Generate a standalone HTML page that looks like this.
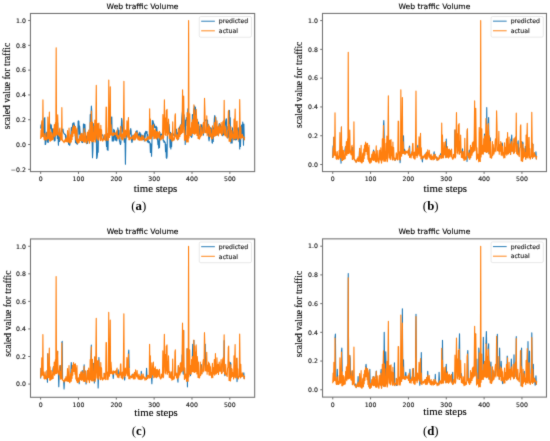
<!DOCTYPE html>
<html><head><meta charset="utf-8"><title>Web traffic Volume</title><style>
html,body{margin:0;padding:0;background:#fff;width:550px;height:441px;overflow:hidden}
svg{display:block}
.tk{font-family:'DejaVu Sans',sans-serif;font-size:6.2px;fill:#111;stroke:#111;stroke-width:0.12px}
.ti{font-family:'DejaVu Sans',sans-serif;font-size:7.6px;fill:#000;stroke:#000;stroke-width:0.12px}
.lg{font-family:'DejaVu Sans',sans-serif;font-size:6.2px;fill:#111;stroke:#111;stroke-width:0.12px}
.xl{font-family:'Liberation Serif',serif;font-size:10.8px;fill:#000;stroke:#000;stroke-width:0.12px}
.yl{font-family:'Liberation Serif',serif;font-size:9.6px;fill:#000;stroke:#000;stroke-width:0.12px}
.pl{font-family:'Liberation Serif',serif;font-size:12.8px;fill:#000}
</style></head><body>
<svg width="550" height="441" viewBox="0 0 550 441">
<defs><filter id="soft" x="0" y="0" width="550" height="441" filterUnits="userSpaceOnUse" color-interpolation-filters="sRGB"><feConvolveMatrix order="3" kernelMatrix="0.25 1 0.25 1 8 1 0.25 1 0.25" edgeMode="duplicate"/></filter>
<filter id="softT" x="0" y="0" width="550" height="441" filterUnits="userSpaceOnUse" color-interpolation-filters="sRGB"><feConvolveMatrix order="3" kernelMatrix="0.1 0.5 0.1 0.5 4 0.5 0.1 0.5 0.1" edgeMode="none"/></filter>
<clipPath id="cpa"><rect x="30.44" y="13.47" width="224.23" height="158.13"/></clipPath>
<clipPath id="cpb"><rect x="322.49" y="13.42" width="223.99" height="158.18"/></clipPath>
<clipPath id="cpc"><rect x="30.49" y="238.95" width="224.18" height="158.35"/></clipPath>
<clipPath id="cpd"><rect x="322.55" y="238.85" width="223.93" height="158.25"/></clipPath></defs>
<g filter="url(#soft)"><rect x="0" y="0" width="550" height="441" fill="#fff"/>
<polyline clip-path="url(#cpa)" points="40.67,128.55 41.05,124.89 41.43,127.26 41.81,122.73 42.18,133.43 42.56,125.58 42.94,130.79 43.32,135.09 43.70,134.08 44.08,118.56 44.45,135.09 44.83,117.63 45.21,144.53 45.59,144.54 45.97,141.72 46.35,133.78 46.72,132.18 47.10,134.78 47.48,141.85 47.86,134.25 48.24,142.36 48.62,136.06 48.99,138.73 49.37,130.38 49.75,129.28 50.13,123.93 50.51,128.36 50.89,125.67 51.27,124.91 51.64,129.50 52.02,134.05 52.40,128.71 52.78,135.09 53.16,135.68 53.54,138.28 53.91,136.22 54.29,140.91 54.67,140.09 55.05,140.79 55.43,132.33 55.81,124.40 56.18,124.91 56.56,124.43 56.94,123.03 57.32,138.52 57.70,122.73 58.08,138.27 58.45,145.27 58.83,136.00 59.21,136.14 59.59,141.36 59.97,135.09 60.35,135.87 60.73,135.23 61.10,133.05 61.48,130.18 61.86,129.84 62.24,129.28 62.62,131.63 63.00,129.10 63.37,132.55 63.75,132.91 64.13,133.67 64.51,134.26 64.89,134.39 65.27,134.36 65.64,138.60 66.02,135.53 66.40,138.73 66.78,139.16 67.16,141.73 67.54,139.53 67.91,140.91 68.29,141.23 68.67,144.48 69.05,141.21 69.43,145.21 69.81,145.27 70.19,141.38 70.56,137.69 70.94,135.09 71.32,127.58 71.70,133.67 72.08,129.65 72.46,126.36 72.83,123.40 73.21,125.15 73.59,122.90 73.97,122.73 74.35,125.11 74.73,126.96 75.10,129.28 75.48,142.71 75.86,133.01 76.24,138.83 76.62,143.82 77.00,143.45 77.37,144.29 77.75,139.88 78.13,121.12 78.51,120.87 78.89,121.27 79.27,134.19 79.65,126.17 80.02,130.94 80.40,135.09 80.78,140.49 81.16,136.72 81.54,141.39 81.92,142.36 82.29,142.63 82.67,142.43 83.05,140.55 83.43,124.14 83.81,124.11 84.19,124.18 84.56,132.22 84.94,124.60 85.32,135.09 85.70,138.14 86.08,142.67 86.46,135.96 86.83,143.82 87.21,138.73 87.59,143.51 87.97,139.17 88.35,138.00 88.73,134.52 89.11,136.74 89.48,134.66 89.86,135.09 90.24,114.44 90.62,133.33 91.00,116.39 91.38,106.00 91.75,111.24 92.13,142.45 92.51,157.64 92.89,149.80 93.27,123.45 93.65,138.94 94.02,128.08 94.40,136.01 94.78,135.09 95.16,134.31 95.54,129.89 95.92,127.81 96.29,136.33 96.67,158.46 97.05,157.64 97.43,154.44 97.81,137.25 98.19,152.14 98.57,127.81 98.94,133.43 99.32,130.68 99.70,133.77 100.08,135.09 100.46,134.61 100.84,135.34 101.21,135.08 101.59,134.25 101.97,134.66 102.35,135.09 102.73,135.33 103.11,135.94 103.48,139.31 103.86,138.47 104.24,139.46 104.62,136.67 105.00,137.88 105.38,134.92 105.75,135.09 106.13,139.82 106.51,146.51 106.89,136.52 107.27,149.64 107.65,134.32 108.03,150.36 108.40,128.99 108.78,123.45 109.16,122.14 109.54,123.29 109.92,121.32 110.30,120.55 110.67,119.00 111.05,129.08 111.43,117.63 111.81,116.92 112.19,140.91 112.57,136.78 112.94,140.91 113.32,141.06 113.70,129.28 114.08,140.10 114.46,130.37 114.84,134.50 115.21,135.09 115.59,140.24 115.97,134.56 116.35,139.74 116.73,140.91 117.11,138.47 117.49,132.85 117.86,127.81 118.24,130.83 118.62,137.72 119.00,130.33 119.38,140.91 119.76,141.47 120.13,144.01 120.51,144.54 120.89,142.52 121.27,127.38 121.65,118.37 122.03,120.75 122.40,127.67 122.78,132.18 123.16,132.24 123.54,132.89 123.92,138.23 124.30,142.26 124.67,139.46 125.05,138.18 125.43,164.18 125.81,140.75 126.19,138.00 126.57,131.04 126.95,136.05 127.32,130.73 127.70,130.22 128.08,130.63 128.46,134.24 128.84,135.44 129.22,135.56 129.59,135.09 129.97,134.34 130.35,131.96 130.73,128.55 131.11,131.18 131.49,140.18 131.86,142.36 132.24,141.70 132.62,137.88 133.00,135.09 133.38,135.07 133.76,138.75 134.13,135.64 134.51,139.46 134.89,134.97 135.27,138.62 135.65,133.56 136.03,132.18 136.41,130.95 136.78,132.45 137.16,130.73 137.54,135.94 137.92,133.02 138.30,139.46 138.68,134.86 139.05,138.68 139.43,133.73 139.81,132.18 140.19,134.16 140.57,137.93 140.95,134.00 141.32,139.46 141.70,135.92 142.08,137.67 142.46,136.63 142.84,135.09 143.22,138.07 143.59,139.66 143.97,136.89 144.35,140.91 144.73,132.94 145.11,137.44 145.49,132.18 145.87,131.26 146.24,132.96 146.62,133.35 147.00,131.46 147.38,141.91 147.76,134.45 148.14,139.76 148.51,142.36 148.89,142.76 149.27,141.49 149.65,142.69 150.03,143.23 150.41,152.38 150.78,143.82 151.16,145.16 151.54,156.19 151.92,142.73 152.30,120.55 152.68,133.68 153.05,120.86 153.43,123.20 153.81,123.45 154.19,127.27 154.57,124.91 154.95,127.81 155.33,126.98 155.70,127.83 156.08,126.36 156.46,133.44 156.84,127.36 157.22,135.09 157.60,139.72 157.97,144.78 158.35,141.26 158.73,148.19 159.11,135.02 159.49,147.49 159.87,132.18 160.24,136.61 160.62,134.75 161.00,138.00 161.38,134.03 161.76,137.88 162.14,134.73 162.51,133.63 162.89,137.05 163.27,140.83 163.65,140.91 164.03,142.41 164.41,140.96 164.79,142.40 165.16,142.36 165.54,151.78 165.92,144.22 166.30,157.64 166.68,158.33 167.06,156.50 167.43,132.92 167.81,122.41 168.19,122.00 168.57,126.49 168.95,124.23 169.33,127.81 169.70,135.64 170.08,147.18 170.46,132.38 170.84,148.91 171.22,136.88 171.60,146.64 171.97,133.63 172.35,134.05 172.73,132.80 173.11,134.08 173.49,135.12 173.87,135.03 174.25,135.09 174.62,135.64 175.00,135.47 175.38,133.27 175.76,128.79 176.14,129.34 176.52,129.28 176.89,137.81 177.27,132.44 177.65,139.46 178.03,133.43 178.41,139.09 178.79,134.29 179.16,133.63 179.54,126.93 179.92,131.92 180.30,125.92 180.68,124.91 181.06,125.83 181.43,124.81 181.81,118.04 182.19,113.99 182.57,111.01 182.95,114.73 183.33,110.37 183.71,122.04 184.08,114.79 184.46,126.36 184.84,126.71 185.22,144.54 185.60,120.16 185.98,125.48 186.35,117.63 186.73,120.55 187.11,118.13 187.49,119.87 187.87,108.90 188.25,128.25 188.62,112.31 189.00,121.42 189.38,127.81 189.76,135.29 190.14,130.28 190.52,134.13 190.89,136.54 191.27,136.41 191.65,137.40 192.03,135.89 192.41,114.53 192.79,115.39 193.17,114.73 193.54,114.39 193.92,108.88 194.30,114.75 194.68,106.00 195.06,118.18 195.44,107.40 195.81,117.63 196.19,118.29 196.57,120.11 196.95,119.02 197.33,120.55 197.71,122.78 198.08,126.55 198.46,122.04 198.84,126.36 199.22,126.40 199.60,134.49 199.98,129.74 200.35,135.09 200.73,126.95 201.11,133.36 201.49,124.90 201.87,124.91 202.25,126.98 202.63,132.06 203.00,127.91 203.38,135.09 203.76,122.41 204.14,132.35 204.52,123.21 204.90,120.55 205.27,120.44 205.65,119.95 206.03,120.00 206.41,120.35 206.79,119.85 207.17,120.03 207.54,120.55 207.92,134.51 208.30,124.26 208.68,138.06 209.06,140.91 209.44,137.98 209.81,131.08 210.19,136.78 210.57,127.81 210.95,127.70 211.33,128.77 211.71,137.96 212.09,142.74 212.46,143.09 212.84,131.50 213.22,141.42 213.60,127.81 213.98,127.26 214.36,118.45 214.73,115.45 215.11,117.42 215.49,125.73 215.87,117.55 216.25,127.81 216.63,128.41 217.00,133.44 217.38,128.20 217.76,135.09 218.14,126.85 218.52,134.73 218.90,126.17 219.27,123.45 219.65,124.68 220.03,126.57 220.41,124.68 220.79,127.81 221.17,128.65 221.55,132.43 221.92,131.21 222.30,135.09 222.68,135.73 223.06,134.60 223.44,134.83 223.82,127.69 224.19,127.62 224.57,128.05 224.95,127.81 225.33,125.40 225.71,121.11 226.09,119.09 226.46,118.86 226.84,134.63 227.22,126.65 227.60,137.95 227.98,138.00 228.36,137.05 228.73,112.60 229.11,134.05 229.49,110.37 229.87,134.35 230.25,117.73 230.63,139.27 231.01,143.09 231.38,139.87 231.76,133.21 232.14,142.92 232.52,127.81 232.90,137.18 233.28,131.70 233.65,139.46 234.03,139.07 234.41,139.06 234.79,139.66 235.17,138.68 235.55,139.95 235.92,139.59 236.30,139.81 236.68,139.46 237.06,128.24 237.44,136.84 237.82,128.35 238.19,127.81 238.57,132.71 238.95,141.60 239.33,130.79 239.71,148.91 240.09,139.77 240.47,146.37 240.84,135.09 241.22,134.96 241.60,125.17 241.98,124.91 242.36,133.78 242.74,122.00 243.11,133.10 243.49,145.27 243.87,124.09 244.25,139.46 244.63,138.96" fill="none" stroke="#1f77b4" stroke-width="1.1" stroke-linejoin="round"/>
<polyline clip-path="url(#cpa)" points="40.67,138.90 41.05,130.13 41.43,137.33 41.81,120.90 42.18,135.61 42.56,136.52 42.94,99.89 43.32,136.67 43.70,133.42 44.08,139.53 44.45,140.00 44.83,139.24 45.21,133.42 45.59,139.81 45.97,137.31 46.35,140.00 46.72,140.04 47.10,132.33 47.48,138.78 47.86,116.98 48.24,138.90 48.62,138.53 48.99,133.10 49.37,112.04 49.75,141.01 50.13,129.04 50.51,141.10 50.89,139.02 51.27,132.33 51.64,140.13 52.02,140.00 52.40,139.40 52.78,133.42 53.16,139.57 53.54,128.73 53.91,135.61 54.29,124.65 54.67,136.64 55.05,131.60 55.43,122.46 55.81,135.25 56.18,47.81 56.56,135.02 56.94,121.37 57.32,134.65 57.70,114.84 58.08,131.22 58.45,133.87 58.83,135.61 59.21,136.32 59.59,129.14 59.97,127.94 60.35,140.24 60.73,133.42 61.10,138.90 61.48,139.64 61.86,107.66 62.24,140.55 62.62,140.00 63.00,141.39 63.37,141.10 63.75,141.90 64.13,142.74 64.51,141.23 64.89,140.04 65.27,139.46 65.64,141.74 66.02,137.81 66.40,141.81 66.78,140.00 67.16,141.36 67.54,130.53 67.91,142.20 68.29,142.26 68.67,136.07 69.05,127.94 69.43,142.52 69.81,143.29 70.19,142.55 70.56,135.42 70.94,134.52 71.32,141.94 71.70,131.22 72.08,139.41 72.46,127.94 72.83,136.52 73.21,127.39 73.59,125.20 73.97,133.28 74.35,126.69 74.73,126.85 75.10,135.75 75.48,126.30 75.86,139.88 76.24,130.13 76.62,141.63 77.00,127.94 77.37,143.07 77.75,139.10 78.13,143.29 78.51,139.68 78.89,138.90 79.27,142.43 79.65,135.99 80.02,135.61 80.40,140.59 80.78,133.98 81.16,133.42 81.54,141.01 81.92,135.61 82.29,133.42 82.67,140.72 83.05,135.61 83.43,142.03 83.81,134.75 84.19,128.48 84.56,142.27 84.94,142.20 85.32,139.74 85.70,132.53 86.08,138.90 86.46,142.31 86.83,143.29 87.21,139.84 87.59,132.12 87.97,134.52 88.35,140.59 88.73,130.13 89.11,141.50 89.48,143.29 89.86,140.15 90.24,122.46 90.62,140.52 91.00,123.55 91.38,110.95 91.75,141.62 92.13,122.16 92.51,122.46 92.89,141.78 93.27,133.42 93.65,141.48 94.02,126.30 94.40,139.50 94.78,120.02 95.16,142.20 95.54,140.38 95.92,115.56 96.29,85.38 96.67,133.42 97.05,138.95 97.43,124.32 97.81,123.56 98.19,140.28 98.57,138.84 98.94,123.00 99.32,136.99 99.70,129.22 100.08,140.00 100.46,140.60 100.84,125.20 101.21,140.31 101.59,129.89 101.97,138.90 102.35,138.68 102.73,141.10 103.11,139.32 103.48,139.15 103.86,140.00 104.24,134.52 104.62,139.42 105.00,135.61 105.38,140.62 105.75,134.30 106.13,107.11 106.51,107.33 106.89,140.26 107.27,133.42 107.65,136.98 108.03,140.55 108.40,138.54 108.78,80.05 109.16,130.13 109.54,137.44 109.92,126.98 110.30,86.87 110.67,135.11 111.05,124.65 111.43,130.13 111.81,135.06 112.19,133.42 112.57,135.61 112.94,135.61 113.32,132.64 113.70,135.38 114.08,133.42 114.46,133.10 114.84,133.85 115.21,134.52 115.59,134.09 115.97,132.33 116.35,136.40 116.73,131.45 117.11,130.13 117.49,138.39 117.86,135.79 118.24,135.61 118.62,138.33 119.00,138.90 119.38,135.95 119.76,133.42 120.13,136.56 120.51,126.74 120.89,126.30 121.27,138.63 121.65,134.52 122.03,139.24 122.40,133.69 122.78,140.00 123.16,138.94 123.54,117.23 123.92,81.29 124.30,136.76 124.67,134.52 125.05,138.40 125.43,130.13 125.81,136.69 126.19,135.61 126.57,134.40 126.95,120.70 127.32,130.13 127.70,137.14 128.08,123.69 128.46,117.52 128.84,139.64 129.22,130.13 129.59,136.89 129.97,140.00 130.35,138.01 130.73,137.81 131.11,137.11 131.49,138.83 131.86,138.90 132.24,137.40 132.62,136.20 133.00,135.61 133.38,139.83 133.76,135.61 134.13,139.79 134.51,133.83 134.89,140.00 135.27,139.42 135.65,131.78 136.03,136.36 136.41,135.61 136.78,138.13 137.16,132.33 137.54,137.08 137.92,138.90 138.30,140.04 138.68,136.47 139.05,135.61 139.43,140.31 139.81,138.90 140.19,137.26 140.57,138.64 140.95,140.55 141.32,139.94 141.70,135.61 142.08,139.16 142.46,140.00 142.84,139.09 143.22,135.61 143.59,138.93 143.97,137.67 144.35,138.90 144.73,139.71 145.11,141.10 145.49,138.80 145.87,140.09 146.24,138.90 146.62,140.52 147.00,138.65 147.38,136.72 147.76,139.57 148.14,136.72 148.51,138.06 148.89,136.72 149.27,139.21 149.65,108.76 150.03,138.79 150.41,119.17 150.78,137.19 151.16,138.90 151.54,138.31 151.92,125.36 152.30,135.61 152.68,136.32 153.05,130.83 153.43,124.65 153.81,138.73 154.19,130.32 154.57,135.61 154.95,138.40 155.33,129.04 155.70,138.06 156.08,131.50 156.46,138.90 156.84,138.08 157.22,131.22 157.60,137.85 157.97,131.98 158.35,132.70 158.73,135.61 159.11,137.90 159.49,131.22 159.87,137.72 160.24,139.32 160.62,140.00 161.00,139.77 161.38,135.61 161.76,138.90 162.14,137.81 162.51,136.17 162.89,114.63 163.27,138.90 163.65,137.59 164.03,120.45 164.41,99.77 164.79,124.65 165.16,134.62 165.54,118.07 165.92,135.44 166.30,110.41 166.68,132.76 167.06,109.30 167.43,135.69 167.81,124.65 168.19,134.04 168.57,119.16 168.95,131.22 169.33,138.50 169.70,133.42 170.08,133.42 170.46,138.60 170.84,138.90 171.22,139.38 171.60,133.42 171.97,141.10 172.35,138.19 172.73,121.91 173.11,140.67 173.49,137.81 173.87,139.05 174.25,140.00 174.62,137.39 175.00,115.86 175.38,113.69 175.76,136.79 176.14,135.61 176.52,138.71 176.89,134.52 177.27,139.79 177.65,140.00 178.03,137.34 178.41,127.94 178.79,138.45 179.16,129.82 179.54,130.13 179.92,136.42 180.30,125.74 180.68,134.46 181.06,124.91 181.43,133.42 181.81,133.36 182.19,117.85 182.57,89.72 182.95,132.51 183.33,124.94 183.71,96.17 184.08,120.26 184.46,140.35 184.84,130.13 185.22,139.36 185.60,137.14 185.98,135.61 186.35,140.20 186.73,142.20 187.11,112.59 187.49,141.73 187.87,116.98 188.25,141.93 188.62,20.53 189.00,138.04 189.38,124.37 189.76,113.69 190.14,135.61 190.52,132.90 190.89,127.94 191.27,135.54 191.65,122.46 192.03,133.51 192.41,119.85 192.79,129.04 193.17,133.43 193.54,120.21 193.92,104.92 194.30,134.16 194.68,110.41 195.06,133.87 195.44,115.89 195.81,133.28 196.19,109.30 196.57,116.98 196.95,135.52 197.33,119.79 197.71,124.65 198.08,138.53 198.46,124.65 198.84,138.39 199.22,139.11 199.60,138.90 199.98,136.98 200.35,124.65 200.73,136.78 201.11,127.41 201.49,132.33 201.87,135.53 202.25,133.42 202.63,132.54 203.00,125.43 203.38,122.46 203.76,133.53 204.14,125.04 204.52,98.28 204.90,110.41 205.27,132.37 205.65,130.13 206.03,132.99 206.41,129.54 206.79,115.89 207.17,135.66 207.54,127.34 207.92,132.33 208.30,133.10 208.68,124.65 209.06,136.41 209.44,125.99 209.81,127.94 210.19,136.85 210.57,129.04 210.95,135.42 211.33,134.15 211.71,138.90 212.09,136.77 212.46,125.74 212.84,138.71 213.22,129.70 213.60,135.61 213.98,134.45 214.36,122.46 214.73,136.51 215.11,134.86 215.49,116.98 215.87,135.40 216.25,130.13 216.63,135.13 217.00,120.80 217.38,133.42 217.76,134.13 218.14,126.85 218.52,135.83 218.90,129.12 219.27,124.65 219.65,132.13 220.03,133.42 220.41,132.80 220.79,126.44 221.17,122.46 221.55,135.09 221.92,126.85 222.30,134.63 222.68,122.71 223.06,121.45 223.44,120.70 223.82,133.26 224.19,100.26 224.57,134.97 224.95,131.22 225.33,136.02 225.71,126.85 226.09,134.30 226.46,135.61 226.84,137.11 227.22,137.67 227.60,130.13 227.98,129.61 228.36,111.50 228.73,110.39 229.11,141.23 229.49,124.65 229.87,138.43 230.25,141.80 230.63,141.75 231.01,126.91 231.38,138.90 231.76,130.54 232.14,131.22 232.52,137.76 232.90,134.30 233.28,135.61 233.65,139.93 234.03,119.17 234.41,138.43 234.79,121.59 235.17,108.98 235.55,138.39 235.92,138.99 236.30,136.53 236.68,121.26 237.06,121.17 237.44,138.58 237.82,130.74 238.19,139.93 238.57,138.86 238.95,137.81 239.33,137.93 239.71,99.52 240.09,125.86 240.47,139.00 240.84,126.80 241.22,137.93 241.60,138.04 241.98,137.81 242.36,134.30 242.74,137.42 243.11,136.17 243.49,137.15 243.87,138.04 244.25,139.93 244.63,137.21" fill="none" stroke="#ff7f0e" stroke-width="1.1" stroke-linejoin="round"/>
<rect x="30.44" y="13.47" width="224.23" height="158.13" fill="none" stroke="#6f6f6f" stroke-width="1.05"/>
<line x1="28.14" x2="30.44" y1="169.33" y2="169.33" stroke="#6f6f6f" stroke-width="1.0"/>
<line x1="28.14" x2="30.44" y1="144.53" y2="144.53" stroke="#6f6f6f" stroke-width="1.0"/>
<line x1="28.14" x2="30.44" y1="119.73" y2="119.73" stroke="#6f6f6f" stroke-width="1.0"/>
<line x1="28.14" x2="30.44" y1="94.93" y2="94.93" stroke="#6f6f6f" stroke-width="1.0"/>
<line x1="28.14" x2="30.44" y1="70.13" y2="70.13" stroke="#6f6f6f" stroke-width="1.0"/>
<line x1="28.14" x2="30.44" y1="45.33" y2="45.33" stroke="#6f6f6f" stroke-width="1.0"/>
<line x1="28.14" x2="30.44" y1="20.53" y2="20.53" stroke="#6f6f6f" stroke-width="1.0"/>
<line x1="40.67" x2="40.67" y1="171.6" y2="173.90" stroke="#6f6f6f" stroke-width="1.0"/>
<line x1="78.51" x2="78.51" y1="171.6" y2="173.90" stroke="#6f6f6f" stroke-width="1.0"/>
<line x1="116.35" x2="116.35" y1="171.6" y2="173.90" stroke="#6f6f6f" stroke-width="1.0"/>
<line x1="154.19" x2="154.19" y1="171.6" y2="173.90" stroke="#6f6f6f" stroke-width="1.0"/>
<line x1="192.03" x2="192.03" y1="171.6" y2="173.90" stroke="#6f6f6f" stroke-width="1.0"/>
<line x1="229.87" x2="229.87" y1="171.6" y2="173.90" stroke="#6f6f6f" stroke-width="1.0"/>
<rect x="199.27" y="16.52" width="52.20" height="20.70" rx="1.5" fill="#fff" fill-opacity="0.8" stroke="#d8d8d8" stroke-width="0.6"/>
<line x1="201.17" x2="214.87" y1="21.22" y2="21.22" stroke="#1f77b4" stroke-width="0.95"/>
<line x1="201.17" x2="214.87" y1="30.82" y2="30.82" stroke="#ff7f0e" stroke-width="0.95"/>
<polyline clip-path="url(#cpb)" points="332.74,157.99 333.12,145.82 333.50,146.54 333.88,137.09" fill="none" stroke="#1f77b4" stroke-width="1.1" stroke-linejoin="round"/>
<polyline clip-path="url(#cpb)" points="340.69,157.56 341.06,163.09 341.44,126.82" fill="none" stroke="#1f77b4" stroke-width="1.1" stroke-linejoin="round"/>
<polyline clip-path="url(#cpb)" points="344.85,151.63 345.23,147.98 345.61,146.19" fill="none" stroke="#1f77b4" stroke-width="1.1" stroke-linejoin="round"/>
<polyline clip-path="url(#cpb)" points="352.42,159.55 352.80,147.26 353.17,157.99" fill="none" stroke="#1f77b4" stroke-width="1.1" stroke-linejoin="round"/>
<polyline clip-path="url(#cpb)" points="355.44,160.54 355.82,160.21 356.20,162.46" fill="none" stroke="#1f77b4" stroke-width="1.1" stroke-linejoin="round"/>
<polyline clip-path="url(#cpb)" points="358.85,159.28 359.23,157.33 359.61,148.28" fill="none" stroke="#1f77b4" stroke-width="1.1" stroke-linejoin="round"/>
<polyline clip-path="url(#cpb)" points="373.23,151.63 373.61,150.13 373.99,154.18" fill="none" stroke="#1f77b4" stroke-width="1.1" stroke-linejoin="round"/>
<polyline clip-path="url(#cpb)" points="383.45,125.55 383.82,120.63 384.20,138.56" fill="none" stroke="#1f77b4" stroke-width="1.1" stroke-linejoin="round"/>
<polyline clip-path="url(#cpb)" points="394.80,160.54 395.18,160.21 395.55,158.28" fill="none" stroke="#1f77b4" stroke-width="1.1" stroke-linejoin="round"/>
<polyline clip-path="url(#cpb)" points="399.72,155.76 400.10,162.66 400.47,157.58" fill="none" stroke="#1f77b4" stroke-width="1.1" stroke-linejoin="round"/>
<polyline clip-path="url(#cpb)" points="403.12,141.45 403.50,135.74 403.88,153.53" fill="none" stroke="#1f77b4" stroke-width="1.1" stroke-linejoin="round"/>
<polyline clip-path="url(#cpb)" points="404.26,151.63 404.64,149.27 405.01,154.18" fill="none" stroke="#1f77b4" stroke-width="1.1" stroke-linejoin="round"/>
<polyline clip-path="url(#cpb)" points="409.18,147.82 409.56,146.10 409.93,154.38" fill="none" stroke="#1f77b4" stroke-width="1.1" stroke-linejoin="round"/>
<polyline clip-path="url(#cpb)" points="417.50,147.82 417.88,145.38 418.26,154.18" fill="none" stroke="#1f77b4" stroke-width="1.1" stroke-linejoin="round"/>
<polyline clip-path="url(#cpb)" points="422.04,159.28 422.42,161.94 422.80,156.73" fill="none" stroke="#1f77b4" stroke-width="1.1" stroke-linejoin="round"/>
<polyline clip-path="url(#cpb)" points="425.83,154.18 426.20,153.01 426.58,152.11" fill="none" stroke="#1f77b4" stroke-width="1.1" stroke-linejoin="round"/>
<polyline clip-path="url(#cpb)" points="429.99,157.99 430.37,156.90 430.75,155.17" fill="none" stroke="#1f77b4" stroke-width="1.1" stroke-linejoin="round"/>
<polyline clip-path="url(#cpb)" points="433.77,154.18 434.15,151.72 434.53,159.28" fill="none" stroke="#1f77b4" stroke-width="1.1" stroke-linejoin="round"/>
<polyline clip-path="url(#cpb)" points="436.42,157.99 436.80,156.90 437.18,160.54" fill="none" stroke="#1f77b4" stroke-width="1.1" stroke-linejoin="round"/>
<polyline clip-path="url(#cpb)" points="440.21,155.46 440.58,153.73 440.96,155.46" fill="none" stroke="#1f77b4" stroke-width="1.1" stroke-linejoin="round"/>
<polyline clip-path="url(#cpb)" points="445.88,157.79 446.26,139.05 446.64,154.18" fill="none" stroke="#1f77b4" stroke-width="1.1" stroke-linejoin="round"/>
<polyline clip-path="url(#cpb)" points="454.21,156.73 454.58,155.61 454.96,129.82" fill="none" stroke="#1f77b4" stroke-width="1.1" stroke-linejoin="round"/>
<polyline clip-path="url(#cpb)" points="462.15,151.63 462.53,148.70 462.91,157.99" fill="none" stroke="#1f77b4" stroke-width="1.1" stroke-linejoin="round"/>
<polyline clip-path="url(#cpb)" points="466.69,156.24 467.07,161.36 467.45,128.73" fill="none" stroke="#1f77b4" stroke-width="1.1" stroke-linejoin="round"/>
<polyline clip-path="url(#cpb)" points="468.96,152.91 469.34,150.13 469.72,159.28" fill="none" stroke="#1f77b4" stroke-width="1.1" stroke-linejoin="round"/>
<polyline clip-path="url(#cpb)" points="484.10,151.73 484.48,134.01 484.86,146.55" fill="none" stroke="#1f77b4" stroke-width="1.1" stroke-linejoin="round"/>
<polyline clip-path="url(#cpb)" points="486.37,152.50 486.75,107.67 487.13,152.15" fill="none" stroke="#1f77b4" stroke-width="1.1" stroke-linejoin="round"/>
<polyline clip-path="url(#cpb)" points="488.26,123.63 488.64,117.60 489.02,154.06" fill="none" stroke="#1f77b4" stroke-width="1.1" stroke-linejoin="round"/>
<polyline clip-path="url(#cpb)" points="489.78,141.45 490.15,137.76 490.53,141.45" fill="none" stroke="#1f77b4" stroke-width="1.1" stroke-linejoin="round"/>
<polyline clip-path="url(#cpb)" points="493.56,150.37 493.94,147.98 494.32,151.63" fill="none" stroke="#1f77b4" stroke-width="1.1" stroke-linejoin="round"/>
<polyline clip-path="url(#cpb)" points="501.88,145.27 502.26,142.94 502.64,146.55" fill="none" stroke="#1f77b4" stroke-width="1.1" stroke-linejoin="round"/>
<polyline clip-path="url(#cpb)" points="510.59,154.42 510.97,139.05 511.34,141.45 511.72,135.02 512.10,151.63" fill="none" stroke="#1f77b4" stroke-width="1.1" stroke-linejoin="round"/>
<polyline clip-path="url(#cpb)" points="514.37,153.04 514.75,141.50 515.13,137.74" fill="none" stroke="#1f77b4" stroke-width="1.1" stroke-linejoin="round"/>
<polyline clip-path="url(#cpb)" points="517.78,144.00 518.16,140.78 518.53,154.18" fill="none" stroke="#1f77b4" stroke-width="1.1" stroke-linejoin="round"/>
<polyline clip-path="url(#cpb)" points="522.32,161.36 522.70,141.93 523.08,144.07" fill="none" stroke="#1f77b4" stroke-width="1.1" stroke-linejoin="round"/>
<polyline clip-path="url(#cpb)" points="524.97,152.65 525.35,146.25 525.72,159.19" fill="none" stroke="#1f77b4" stroke-width="1.1" stroke-linejoin="round"/>
<polyline clip-path="url(#cpb)" points="532.16,142.85 532.54,158.20 532.91,143.95" fill="none" stroke="#1f77b4" stroke-width="1.1" stroke-linejoin="round"/>
<polyline clip-path="url(#cpb)" points="535.56,155.96 535.94,151.72 536.32,159.19" fill="none" stroke="#1f77b4" stroke-width="1.1" stroke-linejoin="round"/>
<polyline clip-path="url(#cpb)" points="332.74,157.99 333.12,147.82 333.50,156.17 333.88,137.09 334.25,154.18 334.63,155.23 335.01,112.71 335.39,155.40 335.77,151.63 336.15,158.73 336.52,159.28 336.90,158.38 337.28,151.63 337.66,159.05 338.04,156.15 338.42,159.28 338.79,159.32 339.17,150.37 339.55,157.85 339.93,132.54 340.31,157.99 340.69,157.56 341.06,151.26 341.44,126.82 341.82,160.44 342.20,146.55 342.58,160.54 342.96,158.14 343.34,150.37 343.71,159.42 344.09,159.28 344.47,158.57 344.85,151.63 345.23,158.77 345.61,146.19 345.98,154.18 346.36,141.45 346.74,155.37 347.12,149.52 347.50,138.91 347.88,153.76 348.25,52.25 348.63,153.49 349.01,137.64 349.39,153.06 349.77,130.07 350.15,149.08 350.52,152.15 350.90,154.18 351.28,155.00 351.66,146.67 352.04,145.27 352.42,159.55 352.80,151.63 353.17,157.99 353.55,158.86 353.93,121.73 354.31,159.91 354.69,159.28 355.07,160.89 355.44,160.54 355.82,161.48 356.20,162.46 356.58,160.70 356.96,159.32 357.34,158.64 357.71,161.29 358.09,156.73 358.47,161.38 358.85,159.28 359.23,160.84 359.61,148.28 359.98,161.82 360.36,161.90 360.74,154.71 361.12,145.27 361.50,162.20 361.88,163.09 362.26,162.23 362.63,153.95 363.01,152.91 363.39,161.52 363.77,149.08 364.15,158.58 364.53,145.27 364.90,155.23 365.28,144.64 365.66,142.09 366.04,151.47 366.42,143.82 366.80,144.00 367.17,154.34 367.55,143.37 367.93,159.13 368.31,147.82 368.69,161.16 369.07,145.27 369.44,162.83 369.82,158.22 370.20,163.09 370.58,158.90 370.96,157.99 371.34,162.10 371.72,154.61 372.09,154.18 372.47,159.95 372.85,152.28 373.23,151.63 373.61,160.44 373.99,154.18 374.36,151.63 374.74,160.11 375.12,154.18 375.50,161.62 375.88,153.17 376.26,145.90 376.63,161.91 377.01,161.82 377.39,158.97 377.77,150.60 378.15,157.99 378.53,161.95 378.90,163.09 379.28,159.09 379.66,150.12 380.04,152.91 380.42,159.95 380.80,147.82 381.18,161.02 381.55,163.09 381.93,159.45 382.31,138.91 382.69,159.88 383.07,140.17 383.45,125.55 383.82,161.15 384.20,138.56 384.58,138.91 384.96,161.33 385.34,151.63 385.72,160.99 386.09,143.37 386.47,158.69 386.85,136.07 387.23,161.82 387.61,159.71 387.99,130.90 388.36,95.87 388.74,151.63 389.12,158.05 389.50,141.07 389.88,140.19 390.26,159.59 390.64,157.92 391.01,139.54 391.39,155.78 391.77,146.75 392.15,159.28 392.53,159.97 392.91,142.09 393.28,159.64 393.66,147.53 394.04,157.99 394.42,157.74 394.80,160.54 395.18,158.48 395.55,158.28 395.93,159.28 396.31,152.91 396.69,158.60 397.07,154.18 397.45,160.00 397.82,152.65 398.20,121.09 398.58,121.34 398.96,159.58 399.34,151.63 399.72,155.76 400.10,159.91 400.47,157.58 400.85,89.68 401.23,147.82 401.61,156.30 401.99,144.16 402.37,97.59 402.74,153.59 403.12,141.45 403.50,147.82 403.88,153.53 404.26,151.63 404.64,154.18 405.01,154.18 405.39,150.73 405.77,153.91 406.15,151.63 406.53,151.26 406.91,152.14 407.28,152.91 407.66,152.41 408.04,150.37 408.42,155.09 408.80,149.34 409.18,147.82 409.56,157.40 409.93,154.38 410.31,154.18 410.69,157.33 411.07,157.99 411.45,154.57 411.83,151.63 412.20,155.27 412.58,143.87 412.96,143.37 413.34,157.68 413.72,152.91 414.10,158.38 414.47,151.95 414.85,159.28 415.23,158.04 415.61,132.83 415.99,91.12 416.37,155.50 416.74,152.91 417.12,157.42 417.50,147.82 417.88,155.43 418.26,154.18 418.64,152.77 419.02,136.86 419.39,147.82 419.77,155.95 420.15,140.33 420.53,133.18 420.91,158.86 421.29,147.82 421.66,155.66 422.04,159.28 422.42,156.96 422.80,156.73 423.18,155.92 423.56,157.91 423.93,157.99 424.31,156.25 424.69,154.86 425.07,154.18 425.45,159.07 425.83,154.18 426.20,159.03 426.58,152.11 426.96,159.28 427.34,158.60 427.72,149.73 428.10,155.04 428.48,154.18 428.85,157.10 429.23,150.37 429.61,155.88 429.99,157.99 430.37,159.32 430.75,155.17 431.12,154.18 431.50,159.64 431.88,157.99 432.26,156.09 432.64,157.69 433.02,159.91 433.39,159.20 433.77,154.18 434.15,158.30 434.53,159.28 434.91,158.21 435.29,154.18 435.66,158.02 436.04,156.57 436.42,157.99 436.80,158.93 437.18,160.54 437.56,157.88 437.94,159.38 438.31,157.99 438.69,159.88 439.07,157.71 439.45,155.46 439.83,158.77 440.21,155.46 440.58,157.02 440.96,155.46 441.34,158.35 441.72,123.00 442.10,157.87 442.48,135.09 442.85,156.01 443.23,157.99 443.61,157.30 443.99,142.28 444.37,154.18 444.75,155.00 445.12,148.62 445.50,141.45 445.88,157.79 446.26,148.03 446.64,154.18 447.02,157.42 447.40,146.55 447.77,157.02 448.15,149.40 448.53,157.99 448.91,157.04 449.29,149.08 449.67,156.77 450.04,149.96 450.42,150.80 450.80,154.18 451.18,156.83 451.56,149.08 451.94,156.63 452.31,158.48 452.69,159.28 453.07,159.00 453.45,154.18 453.83,157.99 454.21,156.73 454.58,154.83 454.96,129.82 455.34,157.99 455.72,156.47 456.10,136.57 456.48,112.56 456.86,141.45 457.23,153.03 457.61,133.81 457.99,153.98 458.37,124.91 458.75,150.87 459.13,123.63 459.50,154.27 459.88,141.45 460.26,152.35 460.64,135.08 461.02,149.08 461.40,157.53 461.77,151.63 462.15,151.63 462.53,157.65 462.91,157.99 463.29,158.56 463.67,151.63 464.04,160.54 464.42,157.17 464.80,138.27 465.18,160.05 465.56,156.73 465.94,158.17 466.32,159.28 466.69,156.24 467.07,131.25 467.45,128.73 467.83,155.55 468.21,154.18 468.59,157.78 468.96,152.91 469.34,159.03 469.72,159.28 470.10,156.18 470.48,145.27 470.86,157.48 471.23,147.46 471.61,147.82 471.99,155.12 472.37,142.72 472.75,152.84 473.13,141.76 473.50,151.63 473.88,151.56 474.26,133.55 474.64,100.90 475.02,150.58 475.40,141.79 475.78,108.39 476.15,136.36 476.53,159.68 476.91,147.82 477.29,158.53 477.67,155.95 478.05,154.18 478.42,159.51 478.80,161.82 479.18,127.45 479.56,161.28 479.94,132.54 480.32,161.51 480.69,20.58 481.07,157.00 481.45,141.12 481.83,128.73 482.21,154.18 482.59,151.03 482.96,145.27 483.34,154.09 483.72,138.91 484.10,151.73 484.48,135.88 484.86,146.55 485.24,151.65 485.61,136.30 485.99,118.55 486.37,152.50 486.75,124.91 487.13,152.15 487.51,131.28 487.88,151.47 488.26,123.63 488.64,132.54 489.02,154.06 489.40,135.81 489.78,141.45 490.15,157.56 490.53,141.45 490.91,157.40 491.29,158.24 491.67,157.99 492.05,155.76 492.42,141.45 492.80,155.53 493.18,144.65 493.56,150.37 493.94,154.08 494.32,151.63 494.70,150.61 495.07,142.36 495.45,138.91 495.83,151.76 496.21,141.90 496.59,110.84 496.97,124.91 497.34,150.41 497.72,147.82 498.10,151.13 498.48,147.13 498.86,131.28 499.24,154.24 499.61,144.58 499.99,150.37 500.37,151.26 500.75,141.45 501.13,155.10 501.51,143.01 501.88,145.27 502.26,155.62 502.64,146.55 503.02,153.95 503.40,152.48 503.78,157.99 504.16,155.52 504.53,142.72 504.91,157.78 505.29,147.31 505.67,154.18 506.05,152.83 506.43,138.91 506.80,155.22 507.18,153.30 507.56,132.54 507.94,153.94 508.32,147.82 508.70,153.62 509.07,136.98 509.45,151.63 509.83,152.45 510.21,144.00 510.59,154.42 510.97,146.64 511.34,141.45 511.72,150.13 512.10,151.63 512.48,150.91 512.86,143.53 513.24,138.91 513.62,153.58 513.99,144.00 514.37,153.04 514.75,139.19 515.13,137.74 515.51,136.86 515.89,151.44 516.26,113.14 516.64,153.43 517.02,149.08 517.40,154.66 517.78,144.00 518.16,152.65 518.53,154.18 518.91,155.92 519.29,156.57 519.67,147.82 520.05,147.21 520.43,126.18 520.80,124.90 521.18,160.70 521.56,141.45 521.94,157.45 522.32,161.36 522.70,161.31 523.08,144.07 523.45,157.99 523.83,148.29 524.21,149.08 524.59,156.67 524.97,152.65 525.35,154.18 525.72,159.19 526.10,135.09 526.48,157.45 526.86,137.90 527.24,123.26 527.62,157.40 527.99,158.10 528.37,155.25 528.75,137.51 529.13,137.41 529.51,157.62 529.89,148.52 530.26,159.19 530.64,157.95 531.02,156.73 531.40,156.87 531.78,112.28 532.16,142.85 532.54,158.11 532.91,143.95 533.29,156.87 533.67,157.00 534.05,156.73 534.43,152.65 534.81,156.28 535.18,154.83 535.56,155.96 535.94,157.00 536.32,159.19 536.70,156.04" fill="none" stroke="#ff7f0e" stroke-width="1.1" stroke-linejoin="round"/>
<rect x="322.49" y="13.42" width="223.99" height="158.18" fill="none" stroke="#6f6f6f" stroke-width="1.05"/>
<line x1="320.19" x2="322.49" y1="164.53" y2="164.53" stroke="#6f6f6f" stroke-width="1.0"/>
<line x1="320.19" x2="322.49" y1="135.74" y2="135.74" stroke="#6f6f6f" stroke-width="1.0"/>
<line x1="320.19" x2="322.49" y1="106.95" y2="106.95" stroke="#6f6f6f" stroke-width="1.0"/>
<line x1="320.19" x2="322.49" y1="78.16" y2="78.16" stroke="#6f6f6f" stroke-width="1.0"/>
<line x1="320.19" x2="322.49" y1="49.37" y2="49.37" stroke="#6f6f6f" stroke-width="1.0"/>
<line x1="320.19" x2="322.49" y1="20.58" y2="20.58" stroke="#6f6f6f" stroke-width="1.0"/>
<line x1="332.74" x2="332.74" y1="171.6" y2="173.90" stroke="#6f6f6f" stroke-width="1.0"/>
<line x1="370.58" x2="370.58" y1="171.6" y2="173.90" stroke="#6f6f6f" stroke-width="1.0"/>
<line x1="408.42" x2="408.42" y1="171.6" y2="173.90" stroke="#6f6f6f" stroke-width="1.0"/>
<line x1="446.26" x2="446.26" y1="171.6" y2="173.90" stroke="#6f6f6f" stroke-width="1.0"/>
<line x1="484.10" x2="484.10" y1="171.6" y2="173.90" stroke="#6f6f6f" stroke-width="1.0"/>
<line x1="521.94" x2="521.94" y1="171.6" y2="173.90" stroke="#6f6f6f" stroke-width="1.0"/>
<rect x="491.08" y="16.47" width="52.20" height="20.70" rx="1.5" fill="#fff" fill-opacity="0.8" stroke="#d8d8d8" stroke-width="0.6"/>
<line x1="492.98" x2="506.68" y1="21.17" y2="21.17" stroke="#1f77b4" stroke-width="0.95"/>
<line x1="492.98" x2="506.68" y1="30.77" y2="30.77" stroke="#ff7f0e" stroke-width="0.95"/>
<polyline clip-path="url(#cpc)" points="40.62,378.56 41.00,368.07" fill="none" stroke="#1f77b4" stroke-width="1.1" stroke-linejoin="round"/>
<polyline clip-path="url(#cpc)" points="47.05,370.51 47.43,382.28 47.81,353.45" fill="none" stroke="#1f77b4" stroke-width="1.1" stroke-linejoin="round"/>
<polyline clip-path="url(#cpc)" points="52.73,371.72 53.11,368.36 53.49,366.51" fill="none" stroke="#1f77b4" stroke-width="1.1" stroke-linejoin="round"/>
<polyline clip-path="url(#cpc)" points="56.89,358.33 57.27,361.06 57.65,351.08" fill="none" stroke="#1f77b4" stroke-width="1.1" stroke-linejoin="round"/>
<polyline clip-path="url(#cpc)" points="58.40,372.22 58.78,386.69 59.16,374.95" fill="none" stroke="#1f77b4" stroke-width="1.1" stroke-linejoin="round"/>
<polyline clip-path="url(#cpc)" points="59.92,365.63 60.30,365.47 60.68,371.72" fill="none" stroke="#1f77b4" stroke-width="1.1" stroke-linejoin="round"/>
<polyline clip-path="url(#cpc)" points="61.81,343.10 62.19,341.35 62.57,379.04" fill="none" stroke="#1f77b4" stroke-width="1.1" stroke-linejoin="round"/>
<polyline clip-path="url(#cpc)" points="63.70,381.15 64.08,388.89 64.46,380.40" fill="none" stroke="#1f77b4" stroke-width="1.1" stroke-linejoin="round"/>
<polyline clip-path="url(#cpc)" points="67.11,380.54 67.49,374.29 67.86,381.48" fill="none" stroke="#1f77b4" stroke-width="1.1" stroke-linejoin="round"/>
<polyline clip-path="url(#cpc)" points="70.89,372.95 71.27,362.57 71.65,369.28" fill="none" stroke="#1f77b4" stroke-width="1.1" stroke-linejoin="round"/>
<polyline clip-path="url(#cpc)" points="78.84,377.81 79.22,383.66 79.60,374.58" fill="none" stroke="#1f77b4" stroke-width="1.1" stroke-linejoin="round"/>
<polyline clip-path="url(#cpc)" points="81.87,374.16 82.24,370.57 82.62,379.84" fill="none" stroke="#1f77b4" stroke-width="1.1" stroke-linejoin="round"/>
<polyline clip-path="url(#cpc)" points="83.76,373.20 84.14,364.78 84.51,381.56" fill="none" stroke="#1f77b4" stroke-width="1.1" stroke-linejoin="round"/>
<polyline clip-path="url(#cpc)" points="85.65,370.73 86.03,384.07 86.41,381.60" fill="none" stroke="#1f77b4" stroke-width="1.1" stroke-linejoin="round"/>
<polyline clip-path="url(#cpc)" points="90.95,360.75 91.33,345.07 91.70,380.83" fill="none" stroke="#1f77b4" stroke-width="1.1" stroke-linejoin="round"/>
<polyline clip-path="url(#cpc)" points="93.22,371.72 93.60,363.40 93.97,363.81 94.35,382.97 94.73,356.83" fill="none" stroke="#1f77b4" stroke-width="1.1" stroke-linejoin="round"/>
<polyline clip-path="url(#cpc)" points="97.76,360.77 98.14,388.07 98.52,377.74 98.89,357.47 99.27,375.69" fill="none" stroke="#1f77b4" stroke-width="1.1" stroke-linejoin="round"/>
<polyline clip-path="url(#cpc)" points="104.19,372.95 104.57,378.56 104.95,374.16" fill="none" stroke="#1f77b4" stroke-width="1.1" stroke-linejoin="round"/>
<polyline clip-path="url(#cpc)" points="111.38,368.07 111.76,372.77 112.14,371.72" fill="none" stroke="#1f77b4" stroke-width="1.1" stroke-linejoin="round"/>
<polyline clip-path="url(#cpc)" points="112.89,374.16 113.27,378.56 113.65,373.90" fill="none" stroke="#1f77b4" stroke-width="1.1" stroke-linejoin="round"/>
<polyline clip-path="url(#cpc)" points="114.41,371.36 114.79,372.08 115.16,372.95" fill="none" stroke="#1f77b4" stroke-width="1.1" stroke-linejoin="round"/>
<polyline clip-path="url(#cpc)" points="115.54,372.47 115.92,371.25 116.30,375.03" fill="none" stroke="#1f77b4" stroke-width="1.1" stroke-linejoin="round"/>
<polyline clip-path="url(#cpc)" points="117.81,374.36 118.19,369.88 118.57,377.18" fill="none" stroke="#1f77b4" stroke-width="1.1" stroke-linejoin="round"/>
<polyline clip-path="url(#cpc)" points="124.25,375.43 124.62,380.07 125.00,377.26" fill="none" stroke="#1f77b4" stroke-width="1.1" stroke-linejoin="round"/>
<polyline clip-path="url(#cpc)" points="128.41,354.06 128.79,350.17 129.17,368.07" fill="none" stroke="#1f77b4" stroke-width="1.1" stroke-linejoin="round"/>
<polyline clip-path="url(#cpc)" points="131.81,377.81 132.19,374.29 132.57,374.81" fill="none" stroke="#1f77b4" stroke-width="1.1" stroke-linejoin="round"/>
<polyline clip-path="url(#cpc)" points="140.90,379.65 141.27,371.25 141.65,374.16" fill="none" stroke="#1f77b4" stroke-width="1.1" stroke-linejoin="round"/>
<polyline clip-path="url(#cpc)" points="146.19,377.81 146.57,368.36 146.95,377.54" fill="none" stroke="#1f77b4" stroke-width="1.1" stroke-linejoin="round"/>
<polyline clip-path="url(#cpc)" points="151.49,377.15 151.87,383.66 152.25,374.16" fill="none" stroke="#1f77b4" stroke-width="1.1" stroke-linejoin="round"/>
<polyline clip-path="url(#cpc)" points="169.65,371.72 170.03,375.66 170.41,377.48" fill="none" stroke="#1f77b4" stroke-width="1.1" stroke-linejoin="round"/>
<polyline clip-path="url(#cpc)" points="177.60,379.04 177.98,382.28 178.36,365.63" fill="none" stroke="#1f77b4" stroke-width="1.1" stroke-linejoin="round"/>
<polyline clip-path="url(#cpc)" points="181.38,371.72 181.76,369.88 182.14,354.42" fill="none" stroke="#1f77b4" stroke-width="1.1" stroke-linejoin="round"/>
<polyline clip-path="url(#cpc)" points="182.90,370.72 183.28,374.29 183.66,330.33" fill="none" stroke="#1f77b4" stroke-width="1.1" stroke-linejoin="round"/>
<polyline clip-path="url(#cpc)" points="187.06,348.57 187.44,386.83 187.82,353.45" fill="none" stroke="#1f77b4" stroke-width="1.1" stroke-linejoin="round"/>
<polyline clip-path="url(#cpc)" points="190.09,374.16 190.47,375.66 190.84,365.63" fill="none" stroke="#1f77b4" stroke-width="1.1" stroke-linejoin="round"/>
<polyline clip-path="url(#cpc)" points="192.36,356.65 192.74,344.38 193.12,371.74" fill="none" stroke="#1f77b4" stroke-width="1.1" stroke-linejoin="round"/>
<polyline clip-path="url(#cpc)" points="193.87,340.06 194.25,368.36 194.63,346.15" fill="none" stroke="#1f77b4" stroke-width="1.1" stroke-linejoin="round"/>
<polyline clip-path="url(#cpc)" points="201.06,365.04 201.44,364.78 201.82,374.07" fill="none" stroke="#1f77b4" stroke-width="1.1" stroke-linejoin="round"/>
<polyline clip-path="url(#cpc)" points="204.85,346.15 205.22,344.38 205.60,368.07" fill="none" stroke="#1f77b4" stroke-width="1.1" stroke-linejoin="round"/>
<polyline clip-path="url(#cpc)" points="215.06,373.32 215.44,370.57 215.82,373.93" fill="none" stroke="#1f77b4" stroke-width="1.1" stroke-linejoin="round"/>
<polyline clip-path="url(#cpc)" points="223.77,371.54 224.14,340.66 224.52,373.45 224.90,375.66 225.28,374.62" fill="none" stroke="#1f77b4" stroke-width="1.1" stroke-linejoin="round"/>
<polyline clip-path="url(#cpc)" points="230.20,381.04 230.58,362.57 230.96,364.49" fill="none" stroke="#1f77b4" stroke-width="1.1" stroke-linejoin="round"/>
<polyline clip-path="url(#cpc)" points="236.63,358.20 237.01,381.59 237.39,377.46" fill="none" stroke="#1f77b4" stroke-width="1.1" stroke-linejoin="round"/>
<polyline clip-path="url(#cpc)" points="243.44,375.87 243.82,372.77 244.20,378.96" fill="none" stroke="#1f77b4" stroke-width="1.1" stroke-linejoin="round"/>
<polyline clip-path="url(#cpc)" points="40.62,377.81 41.00,368.07 41.38,376.06 41.76,357.81 42.13,374.16 42.51,375.17 42.89,334.46 43.27,375.33 43.65,371.72 44.03,378.52 44.40,379.04 44.78,378.19 45.16,371.72 45.54,378.82 45.92,376.05 46.30,379.04 46.67,379.08 47.05,370.51 47.43,377.68 47.81,353.45 48.19,377.81 48.57,377.40 48.94,371.36 49.32,347.97 49.70,380.16 50.08,366.86 50.46,380.25 50.84,377.95 51.22,370.51 51.59,379.18 51.97,379.04 52.35,378.37 52.73,371.72 53.11,378.56 53.49,366.51 53.86,374.16 54.24,361.98 54.62,375.31 55.00,369.70 55.38,359.54 55.76,373.76 56.13,276.59 56.51,373.50 56.89,358.33 57.27,373.09 57.65,351.08 58.03,369.28 58.40,372.22 58.78,374.16 59.16,374.95 59.54,366.97 59.92,365.63 60.30,379.30 60.68,371.72 61.05,377.81 61.43,378.64 61.81,343.10 62.19,379.65 62.57,379.04 62.95,380.58 63.32,380.25 63.70,381.15 64.08,382.09 64.46,380.40 64.84,379.08 65.22,378.43 65.59,380.97 65.97,376.60 66.35,381.05 66.73,379.04 67.11,380.54 67.49,368.51 67.86,381.48 68.24,381.55 68.62,374.67 69.00,365.63 69.38,381.84 69.76,382.69 70.14,381.87 70.51,373.94 70.89,372.95 71.27,381.19 71.65,369.28 72.03,378.38 72.41,365.63 72.78,375.17 73.16,365.03 73.54,362.59 73.92,371.57 74.30,364.24 74.68,364.42 75.05,374.31 75.43,363.81 75.81,378.90 76.19,368.07 76.57,380.85 76.95,365.63 77.32,382.44 77.70,378.03 78.08,382.69 78.46,378.68 78.84,377.81 79.22,381.74 79.60,374.58 79.97,374.16 80.35,379.69 80.73,372.34 81.11,371.72 81.49,380.16 81.87,374.16 82.24,371.72 82.62,379.84 83.00,374.16 83.38,381.29 83.76,373.20 84.14,366.24 84.51,381.56 84.89,381.48 85.27,378.75 85.65,370.73 86.03,377.81 86.41,381.60 86.78,382.69 87.16,378.86 87.54,370.28 87.92,372.95 88.30,379.69 88.68,368.07 89.06,380.71 89.43,382.69 89.81,379.21 90.19,359.54 90.57,379.62 90.95,360.75 91.33,346.75 91.70,380.83 92.08,359.21 92.46,359.54 92.84,381.01 93.22,371.72 93.60,380.68 93.97,363.81 94.35,378.48 94.73,356.83 95.11,381.48 95.49,379.45 95.87,351.88 96.24,318.34 96.62,371.72 97.00,377.87 97.38,361.61 97.76,360.77 98.14,379.34 98.52,377.74 98.89,360.15 99.27,375.69 99.65,367.05 100.03,379.04 100.41,379.70 100.79,362.59 101.16,379.38 101.54,367.80 101.92,377.81 102.30,377.57 102.68,380.25 103.06,378.28 103.43,378.09 103.81,379.04 104.19,372.95 104.57,378.39 104.95,374.16 105.33,379.73 105.70,372.70 106.08,342.48 106.46,342.73 106.84,379.33 107.22,371.72 107.60,375.68 107.98,379.65 108.35,377.41 108.73,312.41 109.11,368.07 109.49,376.19 109.87,364.57 110.25,319.99 110.62,373.60 111.00,361.98 111.38,368.07 111.76,373.54 112.14,371.72 112.52,374.16 112.89,374.16 113.27,370.85 113.65,373.90 114.03,371.72 114.41,371.36 114.79,372.21 115.16,372.95 115.54,372.47 115.92,370.51 116.30,375.03 116.68,369.53 117.06,368.07 117.44,377.25 117.81,374.36 118.19,374.16 118.57,377.18 118.95,377.81 119.33,374.53 119.71,371.72 120.08,375.21 120.46,364.30 120.84,363.81 121.22,377.51 121.60,372.95 121.98,378.19 122.35,372.03 122.73,379.04 123.11,377.86 123.49,353.73 123.87,313.79 124.25,375.43 124.62,372.95 125.00,377.26 125.38,368.07 125.76,375.36 126.14,374.16 126.52,372.81 126.90,357.58 127.27,368.07 127.65,375.86 128.03,360.91 128.41,354.06 128.79,378.64 129.17,368.07 129.54,375.58 129.92,379.04 130.30,376.82 130.68,376.60 131.06,375.83 131.44,377.73 131.81,377.81 132.19,376.15 132.57,374.81 132.95,374.16 133.33,378.85 133.71,374.16 134.08,378.81 134.46,372.18 134.84,379.04 135.22,378.39 135.60,369.90 135.98,374.99 136.36,374.16 136.73,376.96 137.11,370.51 137.49,375.79 137.87,377.81 138.25,379.08 138.63,375.11 139.00,374.16 139.38,379.38 139.76,377.81 140.14,375.99 140.52,377.52 140.90,379.65 141.27,378.97 141.65,374.16 142.03,378.10 142.41,379.04 142.79,378.02 143.17,374.16 143.54,377.84 143.92,376.45 144.30,377.81 144.68,378.71 145.06,380.25 145.44,377.70 145.82,379.14 146.19,377.81 146.57,379.62 146.95,377.54 147.33,375.39 147.71,378.56 148.09,375.39 148.46,376.88 148.84,375.39 149.22,378.16 149.60,344.31 149.98,377.69 150.36,355.89 150.73,375.91 151.11,377.81 151.49,377.15 151.87,362.77 152.25,374.16 152.63,374.95 153.00,368.84 153.38,361.98 153.76,377.62 154.14,368.28 154.52,374.16 154.90,377.26 155.28,366.86 155.65,376.88 156.03,369.59 156.41,377.81 156.79,376.90 157.17,369.28 157.55,376.64 157.92,370.12 158.30,370.92 158.68,374.16 159.06,376.70 159.44,369.28 159.82,376.50 160.19,378.28 160.57,379.04 160.95,378.78 161.33,374.16 161.71,377.81 162.09,376.60 162.46,374.78 162.84,350.85 163.22,377.81 163.60,376.35 163.98,357.31 164.36,334.32 164.74,361.98 165.11,373.06 165.49,354.66 165.87,373.97 166.25,346.15 166.63,370.99 167.01,344.92 167.38,374.24 167.76,361.98 168.14,372.41 168.52,355.88 168.90,369.28 169.28,377.37 169.65,371.72 170.03,371.72 170.41,377.48 170.79,377.81 171.17,378.35 171.55,371.72 171.92,380.25 172.30,377.03 172.68,358.94 173.06,379.78 173.44,376.60 173.82,377.98 174.20,379.04 174.57,376.13 174.95,352.21 175.33,349.80 175.71,375.47 176.09,374.16 176.47,377.61 176.84,372.95 177.22,378.81 177.60,379.04 177.98,376.08 178.36,365.63 178.74,377.32 179.11,367.73 179.49,368.07 179.87,375.06 180.25,363.19 180.63,372.88 181.01,362.27 181.38,371.72 181.76,371.65 182.14,354.42 182.52,323.16 182.90,370.72 183.28,362.30 183.66,330.33 184.03,357.10 184.41,379.43 184.79,368.07 185.17,378.32 185.55,375.86 185.93,374.16 186.30,379.26 186.68,381.48 187.06,348.57 187.44,380.96 187.82,353.45 188.20,381.18 188.57,246.27 188.95,376.86 189.33,361.66 189.71,349.80 190.09,374.16 190.47,371.14 190.84,365.63 191.22,374.08 191.60,359.54 191.98,371.82 192.36,356.65 192.74,366.86 193.12,371.74 193.49,357.05 193.87,340.06 194.25,372.55 194.63,346.15 195.01,372.22 195.39,352.24 195.76,371.57 196.14,344.92 196.52,353.45 196.90,374.05 197.28,356.58 197.66,361.98 198.03,377.40 198.41,361.98 198.79,377.25 199.17,378.05 199.55,377.81 199.93,375.68 200.30,361.98 200.68,375.46 201.06,365.04 201.44,370.51 201.82,374.07 202.20,371.72 202.58,370.74 202.95,362.85 203.33,359.54 203.71,371.85 204.09,362.41 204.47,332.67 204.85,346.15 205.22,370.55 205.60,368.07 205.98,371.24 206.36,367.41 206.74,352.24 207.12,374.22 207.49,364.97 207.87,370.51 208.25,371.36 208.63,361.98 209.01,375.04 209.39,363.47 209.76,365.63 210.14,375.54 210.52,366.86 210.90,373.94 211.28,372.54 211.66,377.81 212.04,375.44 212.41,363.19 212.79,377.61 213.17,367.59 213.55,374.16 213.93,372.87 214.31,359.54 214.68,375.15 215.06,373.32 215.44,353.45 215.82,373.93 216.20,368.07 216.58,373.62 216.95,357.70 217.33,371.72 217.71,372.51 218.09,364.42 218.47,374.40 218.85,366.94 219.22,361.98 219.60,370.29 219.98,371.72 220.36,371.03 220.74,363.96 221.12,359.54 221.50,373.58 221.87,364.42 222.25,373.07 222.63,359.82 223.01,358.43 223.39,357.58 223.77,371.54 224.14,334.88 224.52,373.45 224.90,369.28 225.28,374.62 225.66,364.42 226.04,372.70 226.41,374.16 226.79,375.83 227.17,376.45 227.55,368.07 227.93,367.49 228.31,347.36 228.68,346.13 229.06,380.40 229.44,361.98 229.82,377.29 230.20,381.04 230.58,380.98 230.96,364.49 231.33,377.81 231.71,368.53 232.09,369.28 232.47,376.55 232.85,372.70 233.23,374.16 233.60,378.96 233.98,355.89 234.36,377.29 234.74,358.58 235.12,344.56 235.50,377.25 235.87,377.91 236.25,375.18 236.63,358.20 237.01,358.11 237.39,377.46 237.77,368.75 238.14,378.96 238.52,377.77 238.90,376.60 239.28,376.74 239.66,334.05 240.04,363.32 240.42,377.92 240.79,364.36 241.17,376.74 241.55,376.86 241.93,376.60 242.31,372.70 242.69,376.17 243.06,374.78 243.44,375.87 243.82,376.86 244.20,378.96 244.58,375.94" fill="none" stroke="#ff7f0e" stroke-width="1.1" stroke-linejoin="round"/>
<rect x="30.49" y="238.95" width="224.18" height="158.35" fill="none" stroke="#6f6f6f" stroke-width="1.05"/>
<line x1="28.19" x2="30.49" y1="384.07" y2="384.07" stroke="#6f6f6f" stroke-width="1.0"/>
<line x1="28.19" x2="30.49" y1="356.51" y2="356.51" stroke="#6f6f6f" stroke-width="1.0"/>
<line x1="28.19" x2="30.49" y1="328.95" y2="328.95" stroke="#6f6f6f" stroke-width="1.0"/>
<line x1="28.19" x2="30.49" y1="301.39" y2="301.39" stroke="#6f6f6f" stroke-width="1.0"/>
<line x1="28.19" x2="30.49" y1="273.83" y2="273.83" stroke="#6f6f6f" stroke-width="1.0"/>
<line x1="28.19" x2="30.49" y1="246.27" y2="246.27" stroke="#6f6f6f" stroke-width="1.0"/>
<line x1="40.62" x2="40.62" y1="397.3" y2="399.60" stroke="#6f6f6f" stroke-width="1.0"/>
<line x1="78.46" x2="78.46" y1="397.3" y2="399.60" stroke="#6f6f6f" stroke-width="1.0"/>
<line x1="116.30" x2="116.30" y1="397.3" y2="399.60" stroke="#6f6f6f" stroke-width="1.0"/>
<line x1="154.14" x2="154.14" y1="397.3" y2="399.60" stroke="#6f6f6f" stroke-width="1.0"/>
<line x1="191.98" x2="191.98" y1="397.3" y2="399.60" stroke="#6f6f6f" stroke-width="1.0"/>
<line x1="229.82" x2="229.82" y1="397.3" y2="399.60" stroke="#6f6f6f" stroke-width="1.0"/>
<rect x="199.27" y="242.00" width="52.20" height="20.70" rx="1.5" fill="#fff" fill-opacity="0.8" stroke="#d8d8d8" stroke-width="0.6"/>
<line x1="201.17" x2="214.87" y1="246.70" y2="246.70" stroke="#1f77b4" stroke-width="0.95"/>
<line x1="201.17" x2="214.87" y1="256.30" y2="256.30" stroke="#ff7f0e" stroke-width="0.95"/>
<polyline clip-path="url(#cpd)" points="335.02,338.08 335.40,334.06 335.78,376.91" fill="none" stroke="#1f77b4" stroke-width="1.1" stroke-linejoin="round"/>
<polyline clip-path="url(#cpd)" points="336.91,383.64 337.29,369.24 337.67,384.30" fill="none" stroke="#1f77b4" stroke-width="1.1" stroke-linejoin="round"/>
<polyline clip-path="url(#cpd)" points="341.45,352.15 341.83,348.13 342.21,371.84" fill="none" stroke="#1f77b4" stroke-width="1.1" stroke-linejoin="round"/>
<polyline clip-path="url(#cpd)" points="347.89,379.03 348.26,273.62 348.64,378.76" fill="none" stroke="#1f77b4" stroke-width="1.1" stroke-linejoin="round"/>
<polyline clip-path="url(#cpd)" points="349.78,355.40 350.16,358.47 350.53,377.42" fill="none" stroke="#1f77b4" stroke-width="1.1" stroke-linejoin="round"/>
<polyline clip-path="url(#cpd)" points="352.43,384.80 352.81,371.11 353.18,383.25" fill="none" stroke="#1f77b4" stroke-width="1.1" stroke-linejoin="round"/>
<polyline clip-path="url(#cpd)" points="355.45,385.79 355.83,383.74 356.21,387.70" fill="none" stroke="#1f77b4" stroke-width="1.1" stroke-linejoin="round"/>
<polyline clip-path="url(#cpd)" points="357.72,386.54 358.10,376.56 358.48,386.63" fill="none" stroke="#1f77b4" stroke-width="1.1" stroke-linejoin="round"/>
<polyline clip-path="url(#cpd)" points="365.67,367.39 366.05,364.21 366.43,369.11" fill="none" stroke="#1f77b4" stroke-width="1.1" stroke-linejoin="round"/>
<polyline clip-path="url(#cpd)" points="369.45,388.08 369.83,369.24 370.21,388.33" fill="none" stroke="#1f77b4" stroke-width="1.1" stroke-linejoin="round"/>
<polyline clip-path="url(#cpd)" points="372.86,377.55 373.24,376.56 373.62,385.69" fill="none" stroke="#1f77b4" stroke-width="1.1" stroke-linejoin="round"/>
<polyline clip-path="url(#cpd)" points="375.89,378.44 376.27,371.11 376.64,387.16" fill="none" stroke="#1f77b4" stroke-width="1.1" stroke-linejoin="round"/>
<polyline clip-path="url(#cpd)" points="380.81,373.10 381.19,369.24 381.56,388.33" fill="none" stroke="#1f77b4" stroke-width="1.1" stroke-linejoin="round"/>
<polyline clip-path="url(#cpd)" points="383.83,386.40 384.21,332.34 384.59,364.21" fill="none" stroke="#1f77b4" stroke-width="1.1" stroke-linejoin="round"/>
<polyline clip-path="url(#cpd)" points="385.35,376.91 385.73,351.87 386.10,368.67" fill="none" stroke="#1f77b4" stroke-width="1.1" stroke-linejoin="round"/>
<polyline clip-path="url(#cpd)" points="394.05,383.25 394.43,362.78 394.81,385.79" fill="none" stroke="#1f77b4" stroke-width="1.1" stroke-linejoin="round"/>
<polyline clip-path="url(#cpd)" points="396.32,378.18 396.70,385.46 397.08,379.45" fill="none" stroke="#1f77b4" stroke-width="1.1" stroke-linejoin="round"/>
<polyline clip-path="url(#cpd)" points="402.00,369.45 402.38,308.80 402.75,378.86" fill="none" stroke="#1f77b4" stroke-width="1.1" stroke-linejoin="round"/>
<polyline clip-path="url(#cpd)" points="403.13,366.76 403.51,359.91 403.89,378.80" fill="none" stroke="#1f77b4" stroke-width="1.1" stroke-linejoin="round"/>
<polyline clip-path="url(#cpd)" points="405.40,376.00 405.78,372.25 406.16,376.91" fill="none" stroke="#1f77b4" stroke-width="1.1" stroke-linejoin="round"/>
<polyline clip-path="url(#cpd)" points="409.57,382.66 409.94,369.24 410.32,379.45" fill="none" stroke="#1f77b4" stroke-width="1.1" stroke-linejoin="round"/>
<polyline clip-path="url(#cpd)" points="412.97,368.67 413.35,368.52 413.73,378.18" fill="none" stroke="#1f77b4" stroke-width="1.1" stroke-linejoin="round"/>
<polyline clip-path="url(#cpd)" points="415.62,358.16 416.00,314.25 416.38,380.77" fill="none" stroke="#1f77b4" stroke-width="1.1" stroke-linejoin="round"/>
<polyline clip-path="url(#cpd)" points="419.40,373.10 419.78,385.32 420.16,365.64" fill="none" stroke="#1f77b4" stroke-width="1.1" stroke-linejoin="round"/>
<polyline clip-path="url(#cpd)" points="420.92,384.11 421.30,352.59 421.67,380.93" fill="none" stroke="#1f77b4" stroke-width="1.1" stroke-linejoin="round"/>
<polyline clip-path="url(#cpd)" points="427.35,383.85 427.73,371.39 428.11,380.31" fill="none" stroke="#1f77b4" stroke-width="1.1" stroke-linejoin="round"/>
<polyline clip-path="url(#cpd)" points="434.92,383.47 435.30,374.41 435.67,383.28" fill="none" stroke="#1f77b4" stroke-width="1.1" stroke-linejoin="round"/>
<polyline clip-path="url(#cpd)" points="438.70,385.13 439.08,372.25 439.46,380.73" fill="none" stroke="#1f77b4" stroke-width="1.1" stroke-linejoin="round"/>
<polyline clip-path="url(#cpd)" points="442.11,383.12 442.49,340.24 442.86,381.27" fill="none" stroke="#1f77b4" stroke-width="1.1" stroke-linejoin="round"/>
<polyline clip-path="url(#cpd)" points="445.89,383.05 446.27,364.21 446.65,379.45" fill="none" stroke="#1f77b4" stroke-width="1.1" stroke-linejoin="round"/>
<polyline clip-path="url(#cpd)" points="452.32,383.74 452.70,372.25 453.08,384.26" fill="none" stroke="#1f77b4" stroke-width="1.1" stroke-linejoin="round"/>
<polyline clip-path="url(#cpd)" points="459.14,348.98 459.51,333.78 459.89,366.76" fill="none" stroke="#1f77b4" stroke-width="1.1" stroke-linejoin="round"/>
<polyline clip-path="url(#cpd)" points="461.03,374.36 461.41,373.69 461.78,376.91" fill="none" stroke="#1f77b4" stroke-width="1.1" stroke-linejoin="round"/>
<polyline clip-path="url(#cpd)" points="467.46,354.06 467.84,350.43 468.22,379.45" fill="none" stroke="#1f77b4" stroke-width="1.1" stroke-linejoin="round"/>
<polyline clip-path="url(#cpd)" points="475.03,375.86 475.41,334.35 475.79,333.78" fill="none" stroke="#1f77b4" stroke-width="1.1" stroke-linejoin="round"/>
<polyline clip-path="url(#cpd)" points="476.54,384.93 476.92,359.05 477.30,383.78" fill="none" stroke="#1f77b4" stroke-width="1.1" stroke-linejoin="round"/>
<polyline clip-path="url(#cpd)" points="478.43,384.76 478.81,348.13 479.19,352.79" fill="none" stroke="#1f77b4" stroke-width="1.1" stroke-linejoin="round"/>
<polyline clip-path="url(#cpd)" points="482.97,370.56 483.35,337.37 483.73,364.21" fill="none" stroke="#1f77b4" stroke-width="1.1" stroke-linejoin="round"/>
<polyline clip-path="url(#cpd)" points="486.00,343.91 486.38,331.48 486.76,350.26" fill="none" stroke="#1f77b4" stroke-width="1.1" stroke-linejoin="round"/>
<polyline clip-path="url(#cpd)" points="488.27,348.98 488.65,343.83 489.03,379.33" fill="none" stroke="#1f77b4" stroke-width="1.1" stroke-linejoin="round"/>
<polyline clip-path="url(#cpd)" points="490.54,366.76 490.92,362.06 491.30,383.50" fill="none" stroke="#1f77b4" stroke-width="1.1" stroke-linejoin="round"/>
<polyline clip-path="url(#cpd)" points="493.57,375.64 493.95,371.39 494.33,376.91" fill="none" stroke="#1f77b4" stroke-width="1.1" stroke-linejoin="round"/>
<polyline clip-path="url(#cpd)" points="496.98,350.26 497.35,334.35 497.73,373.10" fill="none" stroke="#1f77b4" stroke-width="1.1" stroke-linejoin="round"/>
<polyline clip-path="url(#cpd)" points="499.25,379.50 499.62,348.13 500.00,375.64" fill="none" stroke="#1f77b4" stroke-width="1.1" stroke-linejoin="round"/>
<polyline clip-path="url(#cpd)" points="500.76,366.76 501.14,361.34 501.52,368.31" fill="none" stroke="#1f77b4" stroke-width="1.1" stroke-linejoin="round"/>
<polyline clip-path="url(#cpd)" points="502.27,380.88 502.65,383.74 503.03,379.22" fill="none" stroke="#1f77b4" stroke-width="1.1" stroke-linejoin="round"/>
<polyline clip-path="url(#cpd)" points="506.81,380.48 507.19,356.17 507.57,357.87" fill="none" stroke="#1f77b4" stroke-width="1.1" stroke-linejoin="round"/>
<polyline clip-path="url(#cpd)" points="510.98,371.92 511.35,359.05 511.73,375.41" fill="none" stroke="#1f77b4" stroke-width="1.1" stroke-linejoin="round"/>
<polyline clip-path="url(#cpd)" points="513.63,378.84 514.00,354.74 514.38,378.31" fill="none" stroke="#1f77b4" stroke-width="1.1" stroke-linejoin="round"/>
<polyline clip-path="url(#cpd)" points="515.90,376.72 516.27,336.65 516.65,378.70" fill="none" stroke="#1f77b4" stroke-width="1.1" stroke-linejoin="round"/>
<polyline clip-path="url(#cpd)" points="521.19,385.95 521.57,348.13 521.95,382.71" fill="none" stroke="#1f77b4" stroke-width="1.1" stroke-linejoin="round"/>
<polyline clip-path="url(#cpd)" points="523.84,373.58 524.22,371.39 524.60,381.93" fill="none" stroke="#1f77b4" stroke-width="1.1" stroke-linejoin="round"/>
<polyline clip-path="url(#cpd)" points="527.63,382.66 528.00,341.67 528.38,380.51" fill="none" stroke="#1f77b4" stroke-width="1.1" stroke-linejoin="round"/>
<polyline clip-path="url(#cpd)" points="529.14,362.72 529.52,351.15 529.90,373.81" fill="none" stroke="#1f77b4" stroke-width="1.1" stroke-linejoin="round"/>
<polyline clip-path="url(#cpd)" points="531.41,382.13 531.79,332.92 532.17,368.15" fill="none" stroke="#1f77b4" stroke-width="1.1" stroke-linejoin="round"/>
<polyline clip-path="url(#cpd)" points="532.92,369.24 533.30,364.21 533.68,382.26" fill="none" stroke="#1f77b4" stroke-width="1.1" stroke-linejoin="round"/>
<polyline clip-path="url(#cpd)" points="534.82,381.54 535.19,385.32 535.57,381.23 535.95,375.84 536.33,384.44" fill="none" stroke="#1f77b4" stroke-width="1.1" stroke-linejoin="round"/>
<polyline clip-path="url(#cpd)" points="332.75,383.25 333.13,373.10 333.51,381.43 333.89,362.41 334.26,379.45 334.64,380.50 335.02,338.08 335.40,380.67 335.78,376.91 336.16,383.98 336.53,384.53 336.91,383.64 337.29,376.91 337.67,384.30 338.05,381.41 338.43,384.53 338.80,384.57 339.18,375.64 339.56,383.11 339.94,357.87 340.32,383.25 340.70,382.82 341.07,376.53 341.45,352.15 341.83,385.69 342.21,371.84 342.59,385.79 342.97,383.40 343.35,375.64 343.72,384.67 344.10,384.53 344.48,383.83 344.86,376.91 345.24,384.03 345.62,371.48 345.99,379.45 346.37,366.76 346.75,380.64 347.13,374.80 347.51,364.21 347.89,379.03 348.26,277.79 348.64,378.76 349.02,362.95 349.40,378.33 349.78,355.40 350.16,374.36 350.53,377.42 350.91,379.45 351.29,380.27 351.67,371.95 352.05,370.56 352.43,384.80 352.81,376.91 353.18,383.25 353.56,384.11 353.94,347.09 354.32,385.16 354.70,384.53 355.08,386.14 355.45,385.79 355.83,386.73 356.21,387.70 356.59,385.95 356.97,384.57 357.35,383.90 357.72,386.54 358.10,381.99 358.48,386.63 358.86,384.53 359.24,386.09 359.62,373.56 359.99,387.07 360.37,387.14 360.75,379.98 361.13,370.56 361.51,387.44 361.89,388.33 362.27,387.47 362.64,379.22 363.02,378.18 363.40,386.77 363.78,374.36 364.16,383.84 364.54,370.56 364.91,380.50 365.29,369.93 365.67,367.39 366.05,376.75 366.43,369.11 366.81,369.30 367.18,379.61 367.56,368.67 367.94,384.39 368.32,373.10 368.70,386.41 369.08,370.56 369.45,388.08 369.83,383.48 370.21,388.33 370.59,384.16 370.97,383.25 371.35,387.34 371.73,379.88 372.10,379.45 372.48,385.20 372.86,377.55 373.24,376.91 373.62,385.69 374.00,379.45 374.37,376.91 374.75,385.36 375.13,379.45 375.51,386.87 375.89,378.44 376.27,371.19 376.64,387.16 377.02,387.07 377.40,384.23 377.78,375.87 378.16,383.25 378.54,387.20 378.91,388.33 379.29,384.34 379.67,375.40 380.05,378.18 380.43,385.20 380.81,373.10 381.19,386.27 381.56,388.33 381.94,384.70 382.32,364.21 382.70,385.13 383.08,365.48 383.46,350.89 383.83,386.40 384.21,363.87 384.59,364.21 384.97,386.58 385.35,376.91 385.73,386.24 386.10,368.67 386.48,383.94 386.86,361.39 387.24,387.07 387.62,384.96 388.00,356.23 388.37,321.29 388.75,376.91 389.13,383.31 389.51,366.37 389.89,365.49 390.27,384.85 390.65,383.18 391.02,364.85 391.40,381.04 391.78,372.04 392.16,384.53 392.54,385.22 392.92,367.39 393.29,384.89 393.67,372.81 394.05,383.25 394.43,382.99 394.81,385.79 395.19,383.74 395.56,383.54 395.94,384.53 396.32,378.18 396.70,383.85 397.08,379.45 397.46,385.25 397.83,377.93 398.21,346.44 398.59,346.70 398.97,384.83 399.35,376.91 399.73,381.03 400.11,385.16 400.48,382.84 400.86,315.11 401.24,373.10 401.62,381.56 402.00,369.45 402.38,323.01 402.75,378.86 403.13,366.76 403.51,373.10 403.89,378.80 404.27,376.91 404.65,379.45 405.02,379.45 405.40,376.00 405.78,379.17 406.16,376.91 406.54,376.53 406.92,377.41 407.29,378.18 407.67,377.68 408.05,375.64 408.43,380.35 408.81,374.62 409.19,373.10 409.57,382.66 409.94,379.65 410.32,379.45 410.70,382.59 411.08,383.25 411.46,379.83 411.84,376.91 412.21,380.54 412.59,369.17 412.97,368.67 413.35,382.94 413.73,378.18 414.11,383.64 414.48,377.22 414.86,384.53 415.24,383.29 415.62,358.16 416.00,316.55 416.38,380.77 416.75,378.18 417.13,382.68 417.51,373.10 417.89,380.70 418.27,379.45 418.65,378.04 419.03,362.18 419.40,373.10 419.78,381.21 420.16,365.64 420.54,358.50 420.92,384.11 421.30,373.10 421.67,380.93 422.05,384.53 422.43,382.22 422.81,381.99 423.19,381.18 423.57,383.17 423.94,383.25 424.32,381.51 424.70,380.12 425.08,379.45 425.46,384.33 425.84,379.45 426.21,384.29 426.59,377.38 426.97,384.53 427.35,383.85 427.73,375.01 428.11,380.31 428.49,379.45 428.86,382.36 429.24,375.64 429.62,381.14 430.00,383.25 430.38,384.57 430.76,380.44 431.13,379.45 431.51,384.89 431.89,383.25 432.27,381.36 432.65,382.95 433.03,385.16 433.40,384.46 433.78,379.45 434.16,383.55 434.54,384.53 434.92,383.47 435.30,379.45 435.67,383.28 436.05,381.83 436.43,383.25 436.81,384.19 437.19,385.79 437.57,383.14 437.95,384.63 438.32,383.25 438.70,385.13 439.08,382.96 439.46,380.73 439.84,384.03 440.22,380.73 440.59,382.28 440.97,380.73 441.35,383.61 441.73,348.35 442.11,383.12 442.49,360.41 442.86,381.27 443.24,383.25 443.62,382.56 444.00,367.57 444.38,379.45 444.76,380.27 445.13,373.91 445.51,366.76 445.89,383.05 446.27,373.32 446.65,379.45 447.03,382.68 447.41,371.84 447.78,382.28 448.16,374.68 448.54,383.25 448.92,382.30 449.30,374.36 449.68,382.03 450.05,375.24 450.43,376.07 450.81,379.45 451.19,382.09 451.57,374.36 451.95,381.89 452.32,383.74 452.70,384.53 453.08,384.26 453.46,379.45 453.84,383.25 454.22,381.99 454.59,380.09 454.97,355.16 455.35,383.25 455.73,381.73 456.11,361.89 456.49,337.94 456.87,366.76 457.24,378.30 457.62,359.13 458.00,379.25 458.38,350.26 458.76,376.15 459.14,348.98 459.51,379.53 459.89,366.76 460.27,377.62 460.65,360.40 461.03,374.36 461.41,382.79 461.78,376.91 462.16,376.91 462.54,382.91 462.92,383.25 463.30,383.81 463.68,376.91 464.05,385.79 464.43,382.43 464.81,363.58 465.19,385.30 465.57,381.99 465.95,383.42 466.33,384.53 466.70,381.50 467.08,356.58 467.46,354.06 467.84,380.81 468.22,379.45 468.60,383.04 468.97,378.18 469.35,384.29 469.73,384.53 470.11,381.44 470.49,370.56 470.87,382.74 471.24,372.74 471.62,373.10 472.00,380.38 472.38,368.02 472.76,378.11 473.14,367.06 473.51,376.91 473.89,376.83 474.27,358.87 474.65,326.31 475.03,375.86 475.41,367.09 475.79,333.78 476.16,361.67 476.54,384.93 476.92,373.10 477.30,383.78 477.68,381.21 478.06,379.45 478.43,384.76 478.81,387.07 479.19,352.79 479.57,386.53 479.95,357.87 480.33,386.76 480.70,246.20 481.08,382.26 481.46,366.43 481.84,354.06 482.22,379.45 482.60,376.30 482.97,370.56 483.35,379.36 483.73,364.21 484.11,377.01 484.49,361.20 484.87,371.84 485.25,376.92 485.62,361.62 486.00,343.91 486.38,377.77 486.76,350.26 487.14,377.42 487.52,356.61 487.89,376.75 488.27,348.98 488.65,357.87 489.03,379.33 489.41,361.13 489.79,366.76 490.16,382.82 490.54,366.76 490.92,382.66 491.30,383.50 491.68,383.25 492.06,381.03 492.43,366.76 492.81,380.80 493.19,369.94 493.57,375.64 493.95,379.35 494.33,376.91 494.71,375.89 495.08,367.66 495.46,364.21 495.84,377.04 496.22,367.20 496.60,336.22 496.98,350.26 497.35,375.69 497.73,373.10 498.11,376.40 498.49,372.41 498.87,356.61 499.25,379.50 499.62,369.87 500.00,375.64 500.38,376.53 500.76,366.76 501.14,380.37 501.52,368.31 501.89,370.56 502.27,380.88 502.65,371.84 503.03,379.22 503.41,377.75 503.79,383.25 504.17,380.78 504.54,368.02 504.92,383.04 505.30,372.60 505.68,379.45 506.06,378.10 506.44,364.21 506.81,380.48 507.19,378.57 507.57,357.87 507.95,379.20 508.33,373.10 508.71,378.89 509.08,362.29 509.46,376.91 509.84,377.72 510.22,369.30 510.60,379.69 510.98,371.92 511.35,366.76 511.73,375.41 512.11,376.91 512.49,376.19 512.87,368.82 513.25,364.21 513.63,378.84 514.00,369.30 514.38,378.31 514.76,364.50 515.14,363.05 515.52,362.18 515.90,376.72 516.27,338.52 516.65,378.70 517.03,374.36 517.41,379.92 517.79,369.30 518.17,377.93 518.54,379.45 518.92,381.18 519.30,381.83 519.68,373.10 520.06,372.50 520.44,351.52 520.81,350.25 521.19,385.95 521.57,366.76 521.95,382.71 522.33,386.61 522.71,386.55 523.09,369.37 523.46,383.25 523.84,373.58 524.22,374.36 524.60,381.93 524.98,377.93 525.36,379.45 525.73,384.44 526.11,360.41 526.49,382.71 526.87,363.21 527.25,348.61 527.63,382.66 528.00,383.35 528.38,380.51 528.76,362.82 529.14,362.72 529.52,382.88 529.90,373.81 530.27,384.44 530.65,383.21 531.03,381.99 531.41,382.13 531.79,337.65 532.17,368.15 532.55,383.37 532.92,369.24 533.30,382.13 533.68,382.26 534.06,381.99 534.44,377.93 534.82,381.54 535.19,380.09 535.57,381.23 535.95,382.26 536.33,384.44 536.71,381.30" fill="none" stroke="#ff7f0e" stroke-width="1.1" stroke-linejoin="round"/>
<rect x="322.55" y="238.85" width="223.93" height="158.25" fill="none" stroke="#6f6f6f" stroke-width="1.05"/>
<line x1="320.25" x2="322.55" y1="389.77" y2="389.77" stroke="#6f6f6f" stroke-width="1.0"/>
<line x1="320.25" x2="322.55" y1="361.06" y2="361.06" stroke="#6f6f6f" stroke-width="1.0"/>
<line x1="320.25" x2="322.55" y1="332.34" y2="332.34" stroke="#6f6f6f" stroke-width="1.0"/>
<line x1="320.25" x2="322.55" y1="303.63" y2="303.63" stroke="#6f6f6f" stroke-width="1.0"/>
<line x1="320.25" x2="322.55" y1="274.91" y2="274.91" stroke="#6f6f6f" stroke-width="1.0"/>
<line x1="320.25" x2="322.55" y1="246.20" y2="246.20" stroke="#6f6f6f" stroke-width="1.0"/>
<line x1="332.75" x2="332.75" y1="397.1" y2="399.40" stroke="#6f6f6f" stroke-width="1.0"/>
<line x1="370.59" x2="370.59" y1="397.1" y2="399.40" stroke="#6f6f6f" stroke-width="1.0"/>
<line x1="408.43" x2="408.43" y1="397.1" y2="399.40" stroke="#6f6f6f" stroke-width="1.0"/>
<line x1="446.27" x2="446.27" y1="397.1" y2="399.40" stroke="#6f6f6f" stroke-width="1.0"/>
<line x1="484.11" x2="484.11" y1="397.1" y2="399.40" stroke="#6f6f6f" stroke-width="1.0"/>
<line x1="521.95" x2="521.95" y1="397.1" y2="399.40" stroke="#6f6f6f" stroke-width="1.0"/>
<rect x="491.08" y="241.90" width="52.20" height="20.70" rx="1.5" fill="#fff" fill-opacity="0.8" stroke="#d8d8d8" stroke-width="0.6"/>
<line x1="492.98" x2="506.68" y1="246.60" y2="246.60" stroke="#1f77b4" stroke-width="0.95"/>
<line x1="492.98" x2="506.68" y1="256.20" y2="256.20" stroke="#ff7f0e" stroke-width="0.95"/>
</g>
<g filter="url(#softT)">
<text x="25.84" y="171.58" text-anchor="end" class="tk">−0.2</text>
<text x="25.84" y="146.78" text-anchor="end" class="tk">0.0</text>
<text x="25.84" y="121.98" text-anchor="end" class="tk">0.2</text>
<text x="25.84" y="97.18" text-anchor="end" class="tk">0.4</text>
<text x="25.84" y="72.38" text-anchor="end" class="tk">0.6</text>
<text x="25.84" y="47.58" text-anchor="end" class="tk">0.8</text>
<text x="25.84" y="22.78" text-anchor="end" class="tk">1.0</text>
<text x="40.67" y="181.00" text-anchor="middle" class="tk">0</text>
<text x="78.51" y="181.00" text-anchor="middle" class="tk">100</text>
<text x="116.35" y="181.00" text-anchor="middle" class="tk">200</text>
<text x="154.19" y="181.00" text-anchor="middle" class="tk">300</text>
<text x="192.03" y="181.00" text-anchor="middle" class="tk">400</text>
<text x="229.87" y="181.00" text-anchor="middle" class="tk">500</text>
<text x="142.56" y="8.72" text-anchor="middle" class="ti">Web traffic Volume</text>
<text x="218.87" y="23.42" class="lg">predicted</text>
<text x="218.87" y="33.02" class="lg">actual</text>
<text x="155.50" y="191.50" text-anchor="middle" class="xl">time steps</text>
<text transform="translate(10.00,85.95) rotate(-90)" text-anchor="middle" class="yl">scaled value for traffic</text>
<text x="138.75" y="209.50" text-anchor="middle" class="pl">(<tspan font-weight="bold">a</tspan>)</text>
<text x="317.89" y="166.78" text-anchor="end" class="tk">0.0</text>
<text x="317.89" y="137.99" text-anchor="end" class="tk">0.2</text>
<text x="317.89" y="109.20" text-anchor="end" class="tk">0.4</text>
<text x="317.89" y="80.41" text-anchor="end" class="tk">0.6</text>
<text x="317.89" y="51.62" text-anchor="end" class="tk">0.8</text>
<text x="317.89" y="22.83" text-anchor="end" class="tk">1.0</text>
<text x="332.74" y="181.00" text-anchor="middle" class="tk">0</text>
<text x="370.58" y="181.00" text-anchor="middle" class="tk">100</text>
<text x="408.42" y="181.00" text-anchor="middle" class="tk">200</text>
<text x="446.26" y="181.00" text-anchor="middle" class="tk">300</text>
<text x="484.10" y="181.00" text-anchor="middle" class="tk">400</text>
<text x="521.94" y="181.00" text-anchor="middle" class="tk">500</text>
<text x="434.49" y="8.67" text-anchor="middle" class="ti">Web traffic Volume</text>
<text x="510.68" y="23.37" class="lg">predicted</text>
<text x="510.68" y="32.97" class="lg">actual</text>
<text x="445.30" y="191.60" text-anchor="middle" class="xl">time steps</text>
<text transform="translate(302.00,84.85) rotate(-90)" text-anchor="middle" class="yl">scaled value for traffic</text>
<text x="430.69" y="209.50" text-anchor="middle" class="pl">(<tspan font-weight="bold">b</tspan>)</text>
<text x="25.89" y="386.32" text-anchor="end" class="tk">0.0</text>
<text x="25.89" y="358.76" text-anchor="end" class="tk">0.2</text>
<text x="25.89" y="331.20" text-anchor="end" class="tk">0.4</text>
<text x="25.89" y="303.64" text-anchor="end" class="tk">0.6</text>
<text x="25.89" y="276.08" text-anchor="end" class="tk">0.8</text>
<text x="25.89" y="248.52" text-anchor="end" class="tk">1.0</text>
<text x="40.62" y="406.70" text-anchor="middle" class="tk">0</text>
<text x="78.46" y="406.70" text-anchor="middle" class="tk">100</text>
<text x="116.30" y="406.70" text-anchor="middle" class="tk">200</text>
<text x="154.14" y="406.70" text-anchor="middle" class="tk">300</text>
<text x="191.98" y="406.70" text-anchor="middle" class="tk">400</text>
<text x="229.82" y="406.70" text-anchor="middle" class="tk">500</text>
<text x="142.58" y="234.20" text-anchor="middle" class="ti">Web traffic Volume</text>
<text x="218.87" y="248.90" class="lg">predicted</text>
<text x="218.87" y="258.50" class="lg">actual</text>
<text x="156.10" y="415.70" text-anchor="middle" class="xl">time steps</text>
<text transform="translate(10.90,313.65) rotate(-90)" text-anchor="middle" class="yl">scaled value for traffic</text>
<text x="138.78" y="434.80" text-anchor="middle" class="pl">(<tspan font-weight="bold">c</tspan>)</text>
<text x="317.95" y="392.02" text-anchor="end" class="tk">0.0</text>
<text x="317.95" y="363.31" text-anchor="end" class="tk">0.2</text>
<text x="317.95" y="334.59" text-anchor="end" class="tk">0.4</text>
<text x="317.95" y="305.88" text-anchor="end" class="tk">0.6</text>
<text x="317.95" y="277.16" text-anchor="end" class="tk">0.8</text>
<text x="317.95" y="248.45" text-anchor="end" class="tk">1.0</text>
<text x="332.75" y="406.50" text-anchor="middle" class="tk">0</text>
<text x="370.59" y="406.50" text-anchor="middle" class="tk">100</text>
<text x="408.43" y="406.50" text-anchor="middle" class="tk">200</text>
<text x="446.27" y="406.50" text-anchor="middle" class="tk">300</text>
<text x="484.11" y="406.50" text-anchor="middle" class="tk">400</text>
<text x="521.95" y="406.50" text-anchor="middle" class="tk">500</text>
<text x="434.51" y="234.10" text-anchor="middle" class="ti">Web traffic Volume</text>
<text x="510.68" y="248.80" class="lg">predicted</text>
<text x="510.68" y="258.40" class="lg">actual</text>
<text x="445.00" y="415.20" text-anchor="middle" class="xl">time steps</text>
<text transform="translate(302.20,314.00) rotate(-90)" text-anchor="middle" class="yl">scaled value for traffic</text>
<text x="430.71" y="434.60" text-anchor="middle" class="pl">(<tspan font-weight="bold">d</tspan>)</text>
</g>
</svg>
</body></html>
